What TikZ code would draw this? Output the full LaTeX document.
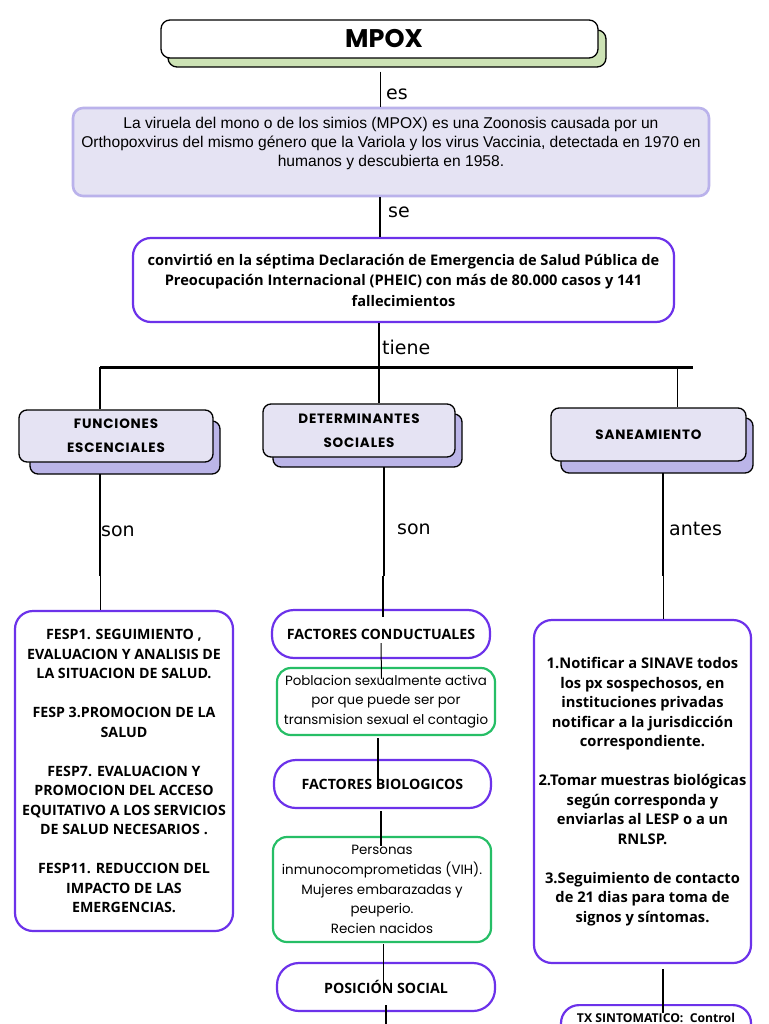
\documentclass[tikz,border=0pt]{standalone}
\usepackage{fontspec}
\setmainfont{Liberation Sans}
\newfontfamily\bodyfont{Liberation Sans}
\newfontfamily\boldfont{Open Sans}
\newfontfamily\greenfont{Poppins}
\newfontfamily\headfont{Poppins}[LetterSpace=6]
\newfontfamily\labfont{DejaVu Sans}
\usetikzlibrary{calc}
\definecolor{purp}{RGB}{108,50,234}
\definecolor{grn}{RGB}{38,190,102}
\definecolor{lavfill}{RGB}{229,227,243}
\definecolor{lavline}{RGB}{186,178,235}
\definecolor{shadlav}{RGB}{187,181,232}
\definecolor{shadgrn}{RGB}{205,227,181}
\tikzset{
  headbox/.style={draw=black, line width=1.3pt, fill=lavfill, rounded corners=8pt, inner sep=0pt, align=center, font=\headfont\bfseries\fontsize{13.5}{24}\selectfont},
  headshadow/.style={draw=black, line width=1.3pt, fill=shadlav, rounded corners=8pt},
  purpbox/.style={draw=purp, line width=2.2pt, fill=white, inner sep=0pt, align=center},
  grnbox/.style={draw=grn, line width=2.2pt, fill=white, rounded corners=14pt, inner sep=0pt, align=center, font=\greenfont\fontsize{13.4}{19.6}\selectfont},
  boldtxt/.style={font=\boldfont\bfseries\fontsize{14.2}{19.5}\selectfont},
  lab/.style={anchor=west, inner sep=0pt, font=\labfont\fontsize{19}{22}\selectfont},
  conn/.style={draw=black, line width=1pt},
  thick conn/.style={draw=black, line width=2.8pt},
}
\begin{document}
\begin{tikzpicture}[x=1pt,y=-1pt]
\clip (0,0) rectangle (768,1024);
\fill[white] (0,0) rectangle (768,1024);

% MPOX
\draw[line width=1.3pt, fill=shadgrn, rounded corners=9pt] (168,30) rectangle (606,67);
\node[draw=black, line width=1.3pt, fill=white, rounded corners=9pt, minimum width=437pt, minimum height=38pt, inner sep=0pt] (mpox) at (379.5,39) {};
\node[inner sep=0pt, font=\greenfont\bfseries\fontsize{25.5}{28}\selectfont] (mpoxtxt) at (384,39) {MPOX};

% Lavender definition box
\node[draw=lavline, line width=2.6pt, fill=lavfill, rounded corners=10pt, minimum width=636pt, minimum height=88pt, inner sep=0pt] (lav) at (391,152) {};
\node[align=center, inner sep=0pt, font=\bodyfont\fontsize{15.6}{19}\selectfont] (lavtxt) at (391,143)
 {La viruela del mono o de los simios (MPOX) es una Zoonosis causada por un\\
  Orthopoxvirus del mismo género que la Variola y los virus Vaccinia, detectada en 1970 en\\
  humanos y descubierta en 1958.};

% PHEIC box
\node[purpbox, rounded corners=18pt, minimum width=541pt, minimum height=84pt, font=\boldfont\bfseries\fontsize{14.6}{20.5}\selectfont] (pheic) at (403.5,280)
 {convirtió en la séptima Declaración de Emergencia de Salud Pública de\\
  Preocupación Internacional (PHEIC) con más de 80.000 casos y 141\\
  fallecimientos};

% Header boxes
\draw[headshadow] (30,421) rectangle (220,474);
\node[headbox, minimum width=194pt, minimum height=52pt] (fun) at (116,436) {FUNCIONES\\ESCENCIALES};
\draw[headshadow] (273,414) rectangle (462,467);
\node[headbox, minimum width=192pt, minimum height=53pt] (det) at (359,430.5) {DETERMINANTES\\SOCIALES};
\draw[headshadow] (561,418) rectangle (753,473);
\node[headbox, minimum width=195pt, minimum height=53pt] (san) at (648.5,434.5) {SANEAMIENTO};

% Left column
\node[purpbox, boldtxt, rounded corners=18pt, minimum width=218pt, minimum height=320pt] (fesp) at (124,771)
 {FESP1. SEGUIMIENTO ,\\
  EVALUACION Y ANALISIS DE\\
  LA SITUACION DE SALUD.\\[19.5pt]
  FESP 3.PROMOCION DE LA\\
  SALUD\\[19.5pt]
  FESP7. EVALUACION Y\\
  PROMOCION DEL ACCESO\\
  EQUITATIVO A LOS SERVICIOS\\
  DE SALUD NECESARIOS .\\[19.5pt]
  FESP11. REDUCCION DEL\\
  IMPACTO DE LAS\\
  EMERGENCIAS.};

% Middle column
\node[purpbox, boldtxt, rounded corners=22pt, minimum width=218pt, minimum height=48pt] (fc) at (381,634) {FACTORES CONDUCTUALES};
\node[grnbox, minimum width=218pt, minimum height=67pt] (g1) at (386,701.5)
 {Poblacion sexualmente activa\\por que puede ser por\\transmision sexual el contagio};
\node[purpbox, boldtxt, rounded corners=22pt, minimum width=217pt, minimum height=48pt] (fb) at (382.5,784) {FACTORES BIOLOGICOS};
\node[grnbox, minimum width=218pt, minimum height=105pt] (g2) at (382,889.5)
 {Personas\\inmunocomprometidas (VIH).\\Mujeres embarazadas y\\peuperio.\\Recien nacidos};
\node[purpbox, boldtxt, rounded corners=22pt, minimum width=218pt, minimum height=48pt] (ps) at (386,987) {POSICIÓN SOCIAL};

% Right column
\node[purpbox, rounded corners=18pt, minimum width=217pt, minimum height=343pt, font=\boldfont\bfseries\fontsize{14.7}{19.5}\selectfont] (act) at (642.5,791.5)
 {1.Notificar a SINAVE todos\\
  los px sospechosos, en\\
  instituciones privadas\\
  notificar a la jurisdicción\\
  correspondiente.\\[19.5pt]
  2.Tomar muestras biológicas\\
  según corresponda y\\
  enviarlas al LESP o a un\\
  RNLSP.\\[19.5pt]
  3.Seguimiento de contacto\\
  de 21 dias para toma de\\
  signos y síntomas.};
\node[purpbox, rounded corners=18pt, minimum width=190pt, minimum height=60pt, anchor=north] (tx) at (656,1004) {};
\node[inner sep=0pt, font=\boldfont\bfseries\fontsize{12.2}{19.5}\selectfont] (txtxt) at ($(tx.north)+(0,14)$) {TX SINTOMATICO:\ \ Control};

% Connectors
\coordinate (barL) at (100,367);
\coordinate (barR) at (693,367);
\draw[conn] ($(mpox.south)+(0.5,13)$) -- (lav.north -| 380,0);
\draw[conn, line width=1.5pt] (lav.south -| 380,0) -- (pheic.north -| 380,0);
\draw[conn, line width=1.5pt] (pheic.south -| 379,0) -- (det.north -| 379,0);
\draw[line width=3pt] (barL) -- (barR);
\draw[conn, line width=2pt] (barL) -- (fun.north -| barL);
\draw[conn] (677,367) -- (san.north -| 677,0);

\coordinate (kL) at (100,576);
\coordinate (kM) at (384,576);
\coordinate (kR) at (663,576);
\draw[thick conn] (100,474) -- (kL);
\draw[conn] (kL) -- (fesp.north -| kL);
\draw[thick conn] (384,467) -- (kM);
\draw[thick conn] (383,576) -- ($(fc.north -| 383,0)+(0,8)$);
\draw[thick conn] (663,473) -- (kR);
\draw[conn] (kR) -- (act.north -| kR);

\draw[conn] ($(fc.center)+(0,9)$) -- ($(g1.north)+(-4.5,12)$);
\draw[conn, line width=1.2pt] ($(g1.south)+(-8,2)$) -- ($(fb.north)+(-4.5,20)$);
\draw[thick conn] ($(fb.south)+(-1.5,2)$) -- ($(g2.north)+(-1,10)$);
\draw[conn] ($(g2.south)+(1,1)$) -- ($(ps.north)+(-3,27)$);
\draw[thick conn] ($(ps.south)+(0,-7)$) -- (386,1024);
\draw[thick conn] ($(act.south)+(20.5,5)$) -- ($(tx.north)+(7,9)$);

% Labels
\node[lab] (les) at (386,94) {es};
\node[lab] (lse) at (388,212) {se};
\node[lab] (ltiene) at (382,347) {tiene};
\node[lab] (lson1) at (101,531) {son};
\node[lab] (lson2) at (397,529) {son};
\node[lab] (lantes) at (669,529) {antes};
\end{tikzpicture}
\end{document}
